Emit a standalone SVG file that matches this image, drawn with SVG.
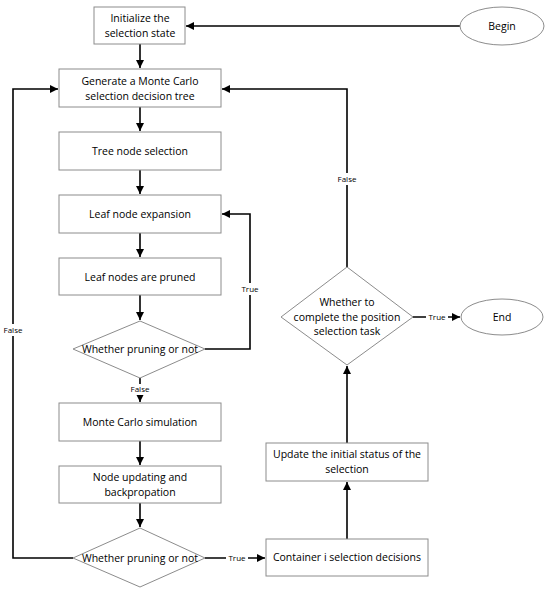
<svg xmlns="http://www.w3.org/2000/svg" width="550" height="591" viewBox="0 0 550 591">
<style>
.box{fill:#fff;stroke:#8c8c8c;stroke-width:1}
.t{font-family:"Open Sans","Liberation Sans",sans-serif;font-size:10.5px;fill:#000;text-anchor:middle}
.e{fill:none;stroke:#000;stroke-width:1.6}
.lbl{font-family:"Open Sans","Liberation Sans",sans-serif;font-size:8px;fill:#000;text-anchor:middle}
.lb{fill:#fff}
</style>
<defs>
<marker id="ah" viewBox="0 0 10 10" refX="10" refY="5" markerWidth="5" markerHeight="5" orient="auto" markerUnits="strokeWidth">
<path d="M0,0 L10,5 L0,10 z" fill="#000"/>
</marker>
</defs>
<rect width="550" height="591" fill="#fff"/>
<g id="connectors">
<path class="e" d="M460,26 H186" marker-end="url(#ah)"/>
<path class="e" d="M140,44 V68" marker-end="url(#ah)"/>
<path class="e" d="M140,107 V131" marker-end="url(#ah)"/>
<path class="e" d="M140,170 V194" marker-end="url(#ah)"/>
<path class="e" d="M140,233 V257" marker-end="url(#ah)"/>
<path class="e" d="M140,295 V320" marker-end="url(#ah)"/>
<path class="e" d="M205,349 H250 V214 H222" marker-end="url(#ah)"/>
<path class="e" d="M140,378 V402" marker-end="url(#ah)"/>
<path class="e" d="M140,441 V465" marker-end="url(#ah)"/>
<path class="e" d="M140,503 V527" marker-end="url(#ah)"/>
<path class="e" d="M73,558 H13 V89 H58" marker-end="url(#ah)"/>
<path class="e" d="M205,558 H265" marker-end="url(#ah)"/>
<path class="e" d="M347,539 V482" marker-end="url(#ah)"/>
<path class="e" d="M347,443 V366" marker-end="url(#ah)"/>
<path class="e" d="M413,317 H460" marker-end="url(#ah)"/>
<path class="e" d="M347,267 V89 H222" marker-end="url(#ah)"/>
<rect class="lb" x="239" y="283" width="22" height="12"/>
<text class="lbl" x="250" y="292">True</text>
<rect class="lb" x="128" y="384" width="24" height="11"/>
<text class="lbl" x="140" y="392">False</text>
<rect class="lb" x="1" y="324" width="24" height="12"/>
<text class="lbl" x="13" y="333">False</text>
<rect class="lb" x="226" y="552" width="22" height="11"/>
<text class="lbl" x="237" y="561">True</text>
<rect class="lb" x="426" y="311" width="22" height="11"/>
<text class="lbl" x="437" y="320">True</text>
<rect class="lb" x="335" y="173" width="24" height="12"/>
<text class="lbl" x="347" y="182">False</text>
</g>
<g id="begin"><ellipse class="box" cx="502" cy="26" rx="42" ry="19"/><text class="t" x="502" y="30">Begin</text></g>
<g id="init"><rect class="box" x="94" y="7" width="91" height="37"/><text class="t" x="140" y="22">Initialize the</text><text class="t" x="140" y="37">selection state</text></g>
<g id="generate"><rect class="box" x="59" y="69" width="162" height="38"/><text class="t" x="140" y="85">Generate a Monte Carlo</text><text class="t" x="140" y="100">selection decision tree</text></g>
<g id="treesel"><rect class="box" x="59" y="132" width="162" height="38"/><text class="t" x="140" y="155">Tree node selection</text></g>
<g id="expand"><rect class="box" x="59" y="195" width="162" height="38"/><text class="t" x="140" y="218">Leaf node expansion</text></g>
<g id="pruned"><rect class="box" x="59" y="258" width="162" height="37"/><text class="t" x="140" y="281">Leaf nodes are pruned</text></g>
<g id="dec1"><polygon class="box" points="140,321 205,349 140,378 73,349"/><text class="t" x="140" y="353">Whether pruning or not</text></g>
<g id="mcsim"><rect class="box" x="59" y="403" width="162" height="38"/><text class="t" x="140" y="426">Monte Carlo simulation</text></g>
<g id="update"><rect class="box" x="59" y="466" width="162" height="37"/><text class="t" x="140" y="481">Node updating and</text><text class="t" x="140" y="496">backpropation</text></g>
<g id="dec2"><polygon class="box" points="140,528 205,558 140,587 73,558"/><text class="t" x="140" y="562">Whether pruning or not</text></g>
<g id="container"><rect class="box" x="266" y="539" width="162" height="37"/><text class="t" x="347" y="561">Container i selection decisions</text></g>
<g id="updstatus"><rect class="box" x="266" y="443" width="162" height="38"/><text class="t" x="347" y="458">Update the initial status of the</text><text class="t" x="347" y="473">selection</text></g>
<g id="dec3"><polygon class="box" points="347,267 413,317 347,365 281,317"/><text class="t" x="347" y="306">Whether to</text><text class="t" x="347" y="321">complete the position</text><text class="t" x="347" y="335">selection task</text></g>
<g id="end"><ellipse class="box" cx="502" cy="317" rx="41" ry="18"/><text class="t" x="502" y="321">End</text></g>
</svg>
